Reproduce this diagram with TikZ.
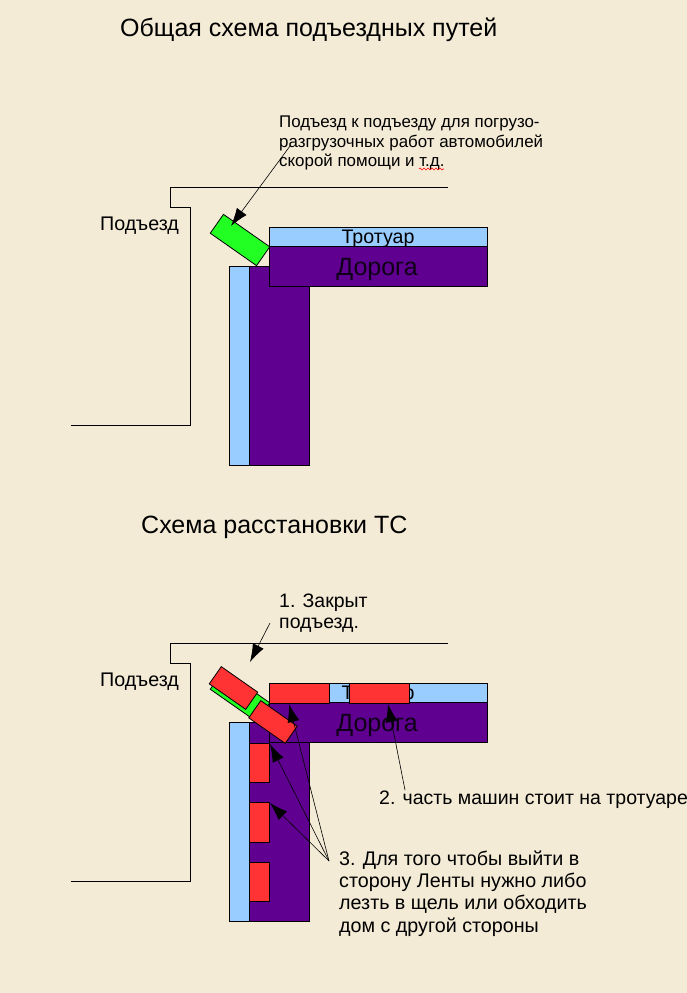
\documentclass[tikz,border=0pt]{standalone}
\usepackage{fontspec}
\setmainfont{Liberation Sans}
\usetikzlibrary{arrows.meta,decorations.pathmorphing}
\definecolor{paper}{HTML}{F3EBD6}
\definecolor{walk}{HTML}{99CCFF}
\definecolor{road}{HTML}{5F0090}
\definecolor{car}{HTML}{FF3333}
\definecolor{grn}{HTML}{22FF22}
\tikzset{
  box/.style={draw=black,line width=0.8pt,inner sep=0pt,outer sep=0pt,anchor=north west},
  walkbox/.style={box,fill=walk},
  roadbox/.style={box,fill=road},
  carbox/.style={box,fill=car},
  tilted/.style={draw=black,line width=0.8pt,inner sep=0pt,outer sep=0pt,rotate=-35},
  wall/.style={draw=black,line width=1pt},
  ptr/.style={draw=black,line width=0.6pt,-{Latex[length=18pt,width=12pt]}},
  lbl/.style={inner sep=0pt,anchor=base west},
  big/.style={lbl,font=\fontsize{25}{25}\selectfont},
  mid/.style={lbl,font=\fontsize{19.7}{19.7}\selectfont},
  walktext/.style={inner sep=0pt,anchor=base,font=\fontsize{19.6}{19.6}\selectfont},
  roadtext/.style={inner sep=0pt,anchor=base,font=\fontsize{25}{25}\selectfont,text=black!85!road},
  note/.style={inner sep=0pt,anchor=north west,align=left},
}
\begin{document}
\begin{tikzpicture}[x=1pt,y=-1pt]
\useasboundingbox (0,0) rectangle (687,993);
\clip (0,0) rectangle (687,993);
\fill[paper] (0,0) rectangle (687,993);
% titles
\node[big] (t1) at (120,36) {Общая схема подъездных путей};
\node[big] (t2) at (141,533) {Схема расстановки ТС};
% upper scheme
\draw[wall] (71,425) -- (190,425) -- (190,207) -- (170,207) -- (170,187) -- (448,187);
\node[mid] (p1) at (100,230) {Подъезд};
\node[walkbox,minimum width=20pt,minimum height=199pt] (vw1) at (229,266) {};
\node[roadbox,minimum width=60pt,minimum height=199pt] (vr1) at (249,266) {};
\node[walkbox,minimum width=218pt,minimum height=19pt] (hw1) at (269,227) {};
\node[roadbox,minimum width=218pt,minimum height=40pt] (hr1) at (269,246) {};
\node[walktext] (hwt1) at (378,243) {Тротуар};
\node[roadtext] (hrt1) at (377,275.7) {Дорога};
\node[tilted,fill=grn,minimum width=56.5pt,minimum height=23pt] (g1) at (240,240) {};
\node[note,font=\fontsize{16.9}{19.5}\selectfont] (n1) at (279,116) {Подъезд к подъезду для погрузо-\\разгрузочных работ автомобилей\\скорой помощи и т.д.};
\coordinate (a1) at (290,146);
\coordinate (b1) at (231,226);
\draw[ptr] (a1) -- (b1);
\coordinate (w1) at (419,169);
\coordinate (w2) at (444,169);
\draw[red,line width=0.6pt,decorate,decoration={zigzag,segment length=4pt,amplitude=1pt}] (w1) -- (w2);
% lower scheme
\draw[wall] (71,881) -- (190,881) -- (190,663) -- (170,663) -- (170,643) -- (448,643);
\node[mid] (p2) at (100,686) {Подъезд};
\node[walkbox,minimum width=20pt,minimum height=199pt] (vw2) at (229,722) {};
\node[roadbox,minimum width=60pt,minimum height=199pt] (vr2) at (249,722) {};
\node[walkbox,minimum width=218pt,minimum height=19pt] (hw2) at (269,683) {};
\node[roadbox,minimum width=218pt,minimum height=40pt] (hr2) at (269,702) {};
\node[walktext] (hwt2) at (378,699) {Тротуар};
\node[roadtext] (hrt2) at (377,731.7) {Дорога};
\node[tilted,fill=grn,minimum width=56.5pt,minimum height=23pt] (g2) at (240,696) {};
\node[carbox,minimum width=60pt,minimum height=20pt] (c1) at (269,683) {};
\node[carbox,minimum width=60pt,minimum height=20pt] (c2) at (349,683) {};
\node[tilted,fill=car,minimum width=44.5pt,minimum height=21pt] (c3) at (233.5,688) {};
\node[tilted,fill=car,minimum width=44.5pt,minimum height=21pt] (c4) at (273,722) {};
\node[carbox,minimum width=20pt,minimum height=39pt] (c5) at (249,743) {};
\node[carbox,minimum width=20pt,minimum height=40pt] (c6) at (249,802) {};
\node[carbox,minimum width=20pt,minimum height=39pt] (c7) at (249,862) {};
\node[note,font=\fontsize{19.5}{21}\selectfont] (n2) at (279,593.5) {1. Закрыт\\подъезд.};
\node[lbl,font=\fontsize{19.5}{19.5}\selectfont] (n3) at (379,804) {2. часть машин стоит на тротуаре};
\node[note,font=\fontsize{19.7}{22.3}\selectfont] (n4) at (339,850.5) {3. Для того чтобы выйти в\\сторону Ленты нужно либо\\лезть в щель или обходить\\дом с другой стороны};
\coordinate (a2) at (270,623);
\coordinate (b2) at (250,662);
\draw[ptr] (a2) -- (b2);
\coordinate (a3) at (405,790);
\coordinate (b3) at (388,704);
\draw[ptr] (a3) -- (b3);
\coordinate (a4) at (329,861);
\coordinate (b4) at (289,704);
\coordinate (b5) at (270,744);
\coordinate (b6) at (270,803);
\draw[ptr] (a4) -- (b4);
\draw[ptr] (a4) -- (b5);
\draw[ptr] (a4) -- (b6);
\end{tikzpicture}
\end{document}
